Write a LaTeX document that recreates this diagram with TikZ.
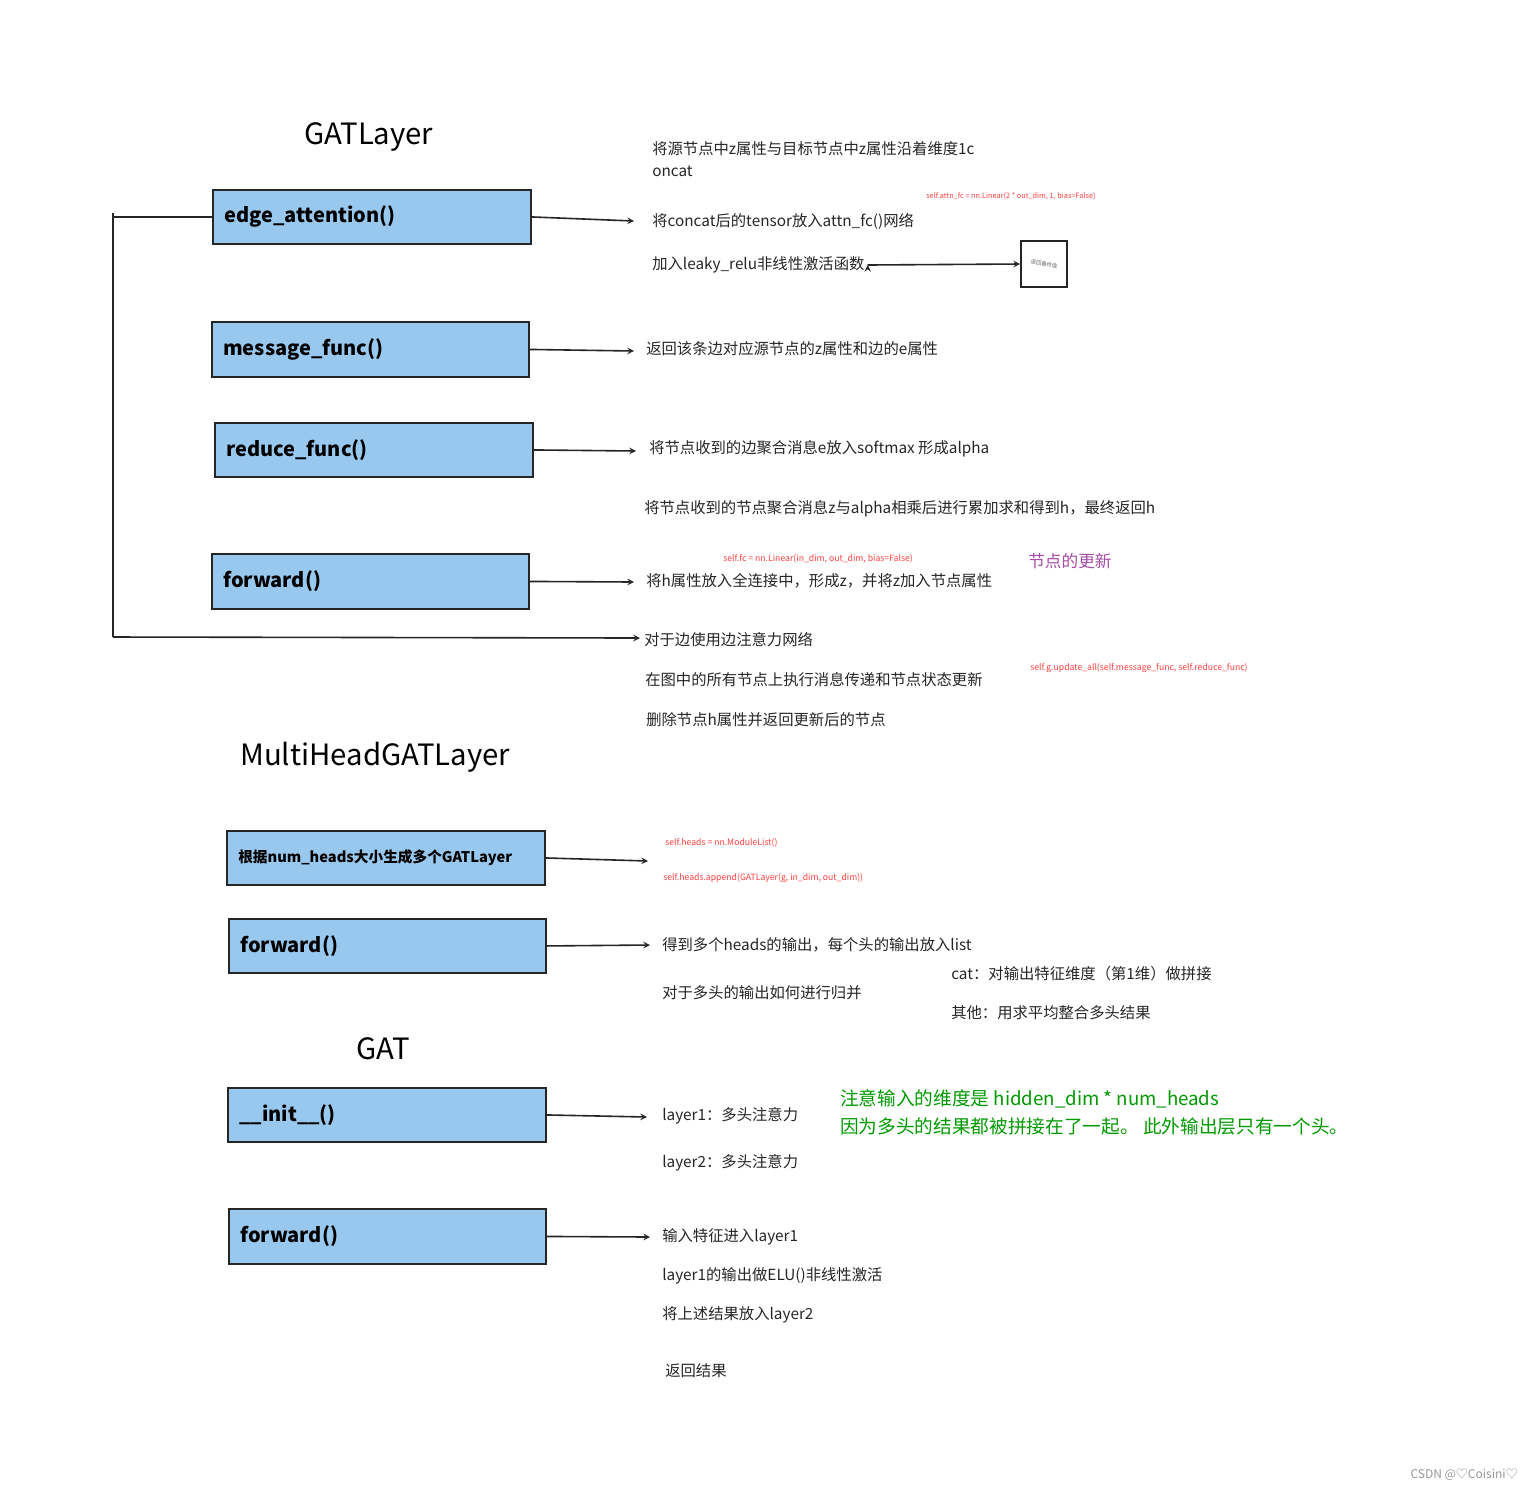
\documentclass[tikz,border=0pt]{standalone}
\usepackage{fontspec}
\setmainfont{Noto Sans CJK SC}
\begin{document}
\begin{tikzpicture}[x=0.75pt,y=-0.75pt,
 box/.style={draw=black!85,line width=1.4pt,fill=cBox,anchor=north west,inner sep=0pt,font=\fontsize{15}{18}\selectfont\bfseries},
 t/.style={anchor=west,inner sep=0pt,font=\fontsize{11.5}{14}\selectfont,text=black!85},
 red/.style={anchor=west,inner sep=0pt,font=\fontsize{6.5}{8}\selectfont,text=red!75},
 ttl/.style={anchor=west,inner sep=0pt,font=\fontsize{22}{26}\selectfont},
 arr/.style={->,>=stealth,line width=1.2pt,black!85}]
\definecolor{cBox}{HTML}{99C8EE}
\useasboundingbox (0,0) rectangle (1533,1490);
\fill[white] (0,0) rectangle (1533,1490);
\newcommand{\bx}[6]{\node[box,minimum width={(#4-#2)*0.75pt},minimum height={(#5-#3)*0.75pt}] (#1) at (#2,#3) {};
 \node[anchor=west,inner sep=0pt,font=\fontsize{15}{18}\selectfont\bfseries] at ([xshift=9pt]#1.west) {#6};}
\node[ttl] (t1) at (304,137) {GATLayer};
\node[ttl] (t2) at (240,757) {MultiHeadGATLayer};
\node[ttl] (t3) at (356,1049) {GAT};
\bx{b1}{212}{189}{530}{243}{edge\_attention()}
\bx{b2}{211}{321}{528}{376}{message\_func()}
\bx{b3}{214}{422}{532}{476}{reduce\_func()}
\bx{b4}{211}{553}{528}{608}{forward()}
\node[box,minimum width={318*0.75pt},minimum height={54*0.75pt}] (b5) at (226,830) {};
\node[anchor=west,inner sep=0pt,font=\fontsize{11}{13}\selectfont\bfseries] at ([xshift=9pt]b5.west) {根据num\_heads大小生成多个GATLayer};
\bx{b6}{228}{918}{545}{972}{forward()}
\bx{b7}{227}{1087}{545}{1141}{\_\_init\_\_()}
\bx{b8}{228}{1208}{545}{1263}{forward()}
% bracket
\coordinate (L1) at (113,213); \coordinate (L2) at (113,637); \coordinate (E) at (640,638);
\draw[line width=1.4pt,black!85] (b1.west) -- (113,217) (L1) -- (L2);
\draw[arr] (L2) -- (E);
% texts
\node[t] at (652,149) {将源节点中z属性与目标节点中z属性沿着维度1c};
\node[t] at (652,171) {oncat};
\node[red,font=\fontsize{5.5}{7}\selectfont] at (926,196) {self.attn\_fc = nn.Linear(2 * out\_dim, 1, bias=False)};
\node[t] (a1) at (652,221) {将concat后的tensor放入attn\_fc()网络};
\node[t] (a2) at (652,265) {加入leaky\_relu非线性激活函数};
\node[draw=black!85,line width=1.4pt,minimum size={46*0.75pt},inner sep=0pt] (sq) at (1044,264) {\rotatebox{-10}{\fontsize{4}{5}\selectfont\color{black!60}返回最终值}};
\draw[arr] (a2.east) ++(3,0) coordinate (a2e);
\draw[arr] (a2e) -- (sq.west);
\draw[arr] (b1.east) -- (634,221);
\draw[arr] (b2.east) -- (634,351);
\node[t] at (646,349) {返回该条边对应源节点的z属性和边的e属性};
\draw[arr] (b3.east) -- (636,451);
\node[t] at (649,449) {将节点收到的边聚合消息e放入softmax 形成alpha};
\node[t] at (644,509) {将节点收到的节点聚合消息z与alpha相乘后进行累加求和得到h，最终返回h};
\node[red] at (723,559) {self.fc = nn.Linear(in\_dim, out\_dim, bias=False)};
\node[t,text=violet!70,font=\fontsize{12.5}{15}\selectfont] at (1028,561) {节点的更新};
\draw[arr] (b4.east) -- (634,582);
\node[t] at (646,581) {将h属性放入全连接中，形成z，并将z加入节点属性};
\node[t] at (644,640) {对于边使用边注意力网络};
\node[t] at (645,680) {在图中的所有节点上执行消息传递和节点状态更新};
\node[red] at (1030,668) {self.g.update\_all(self.message\_func, self.reduce\_func)};
\node[t] at (646,720) {删除节点h属性并返回更新后的节点};
\draw[arr] (b5.east) -- (648,861);
\node[red] at (665,843) {self.heads = nn.ModuleList()};
\node[red] at (663,878) {self.heads.append(GATLayer(g, in\_dim, out\_dim))};
\draw[arr] (b6.east) -- (650,945);
\node[t] at (662,945) {得到多个heads的输出，每个头的输出放入list};
\node[t] at (662,993) {对于多头的输出如何进行归并};
\node[t] at (951,974) {cat：对输出特征维度（第1维）做拼接};
\node[t] at (951,1013) {其他：用求平均整合多头结果};
\draw[arr] (b7.east) -- (647,1117);
\node[t] at (662,1116) {layer1：多头注意力};
\node[t] at (662,1163) {layer2：多头注意力};
\node[t,text=green!60!black,font=\fontsize{14}{17}\selectfont] at (840,1099) {注意输入的维度是 hidden\_dim * num\_heads};
\node[t,text=green!60!black,font=\fontsize{14}{17}\selectfont] at (840,1126) {因为多头的结果都被拼接在了一起。 此外输出层只有一个头。};
\draw[arr] (b8.east) -- (650,1237);
\node[t] at (662,1237) {输入特征进入layer1};
\node[t] at (662,1276) {layer1的输出做ELU()非线性激活};
\node[t] at (662,1315) {将上述结果放入layer2};
\node[t] at (665,1371) {返回结果};
\node[anchor=east,inner sep=0pt,font=\fontsize{9}{11}\selectfont,text=black!40] at (1518,1475) {CSDN @♡Coisini♡};
\end{tikzpicture}
\end{document}
